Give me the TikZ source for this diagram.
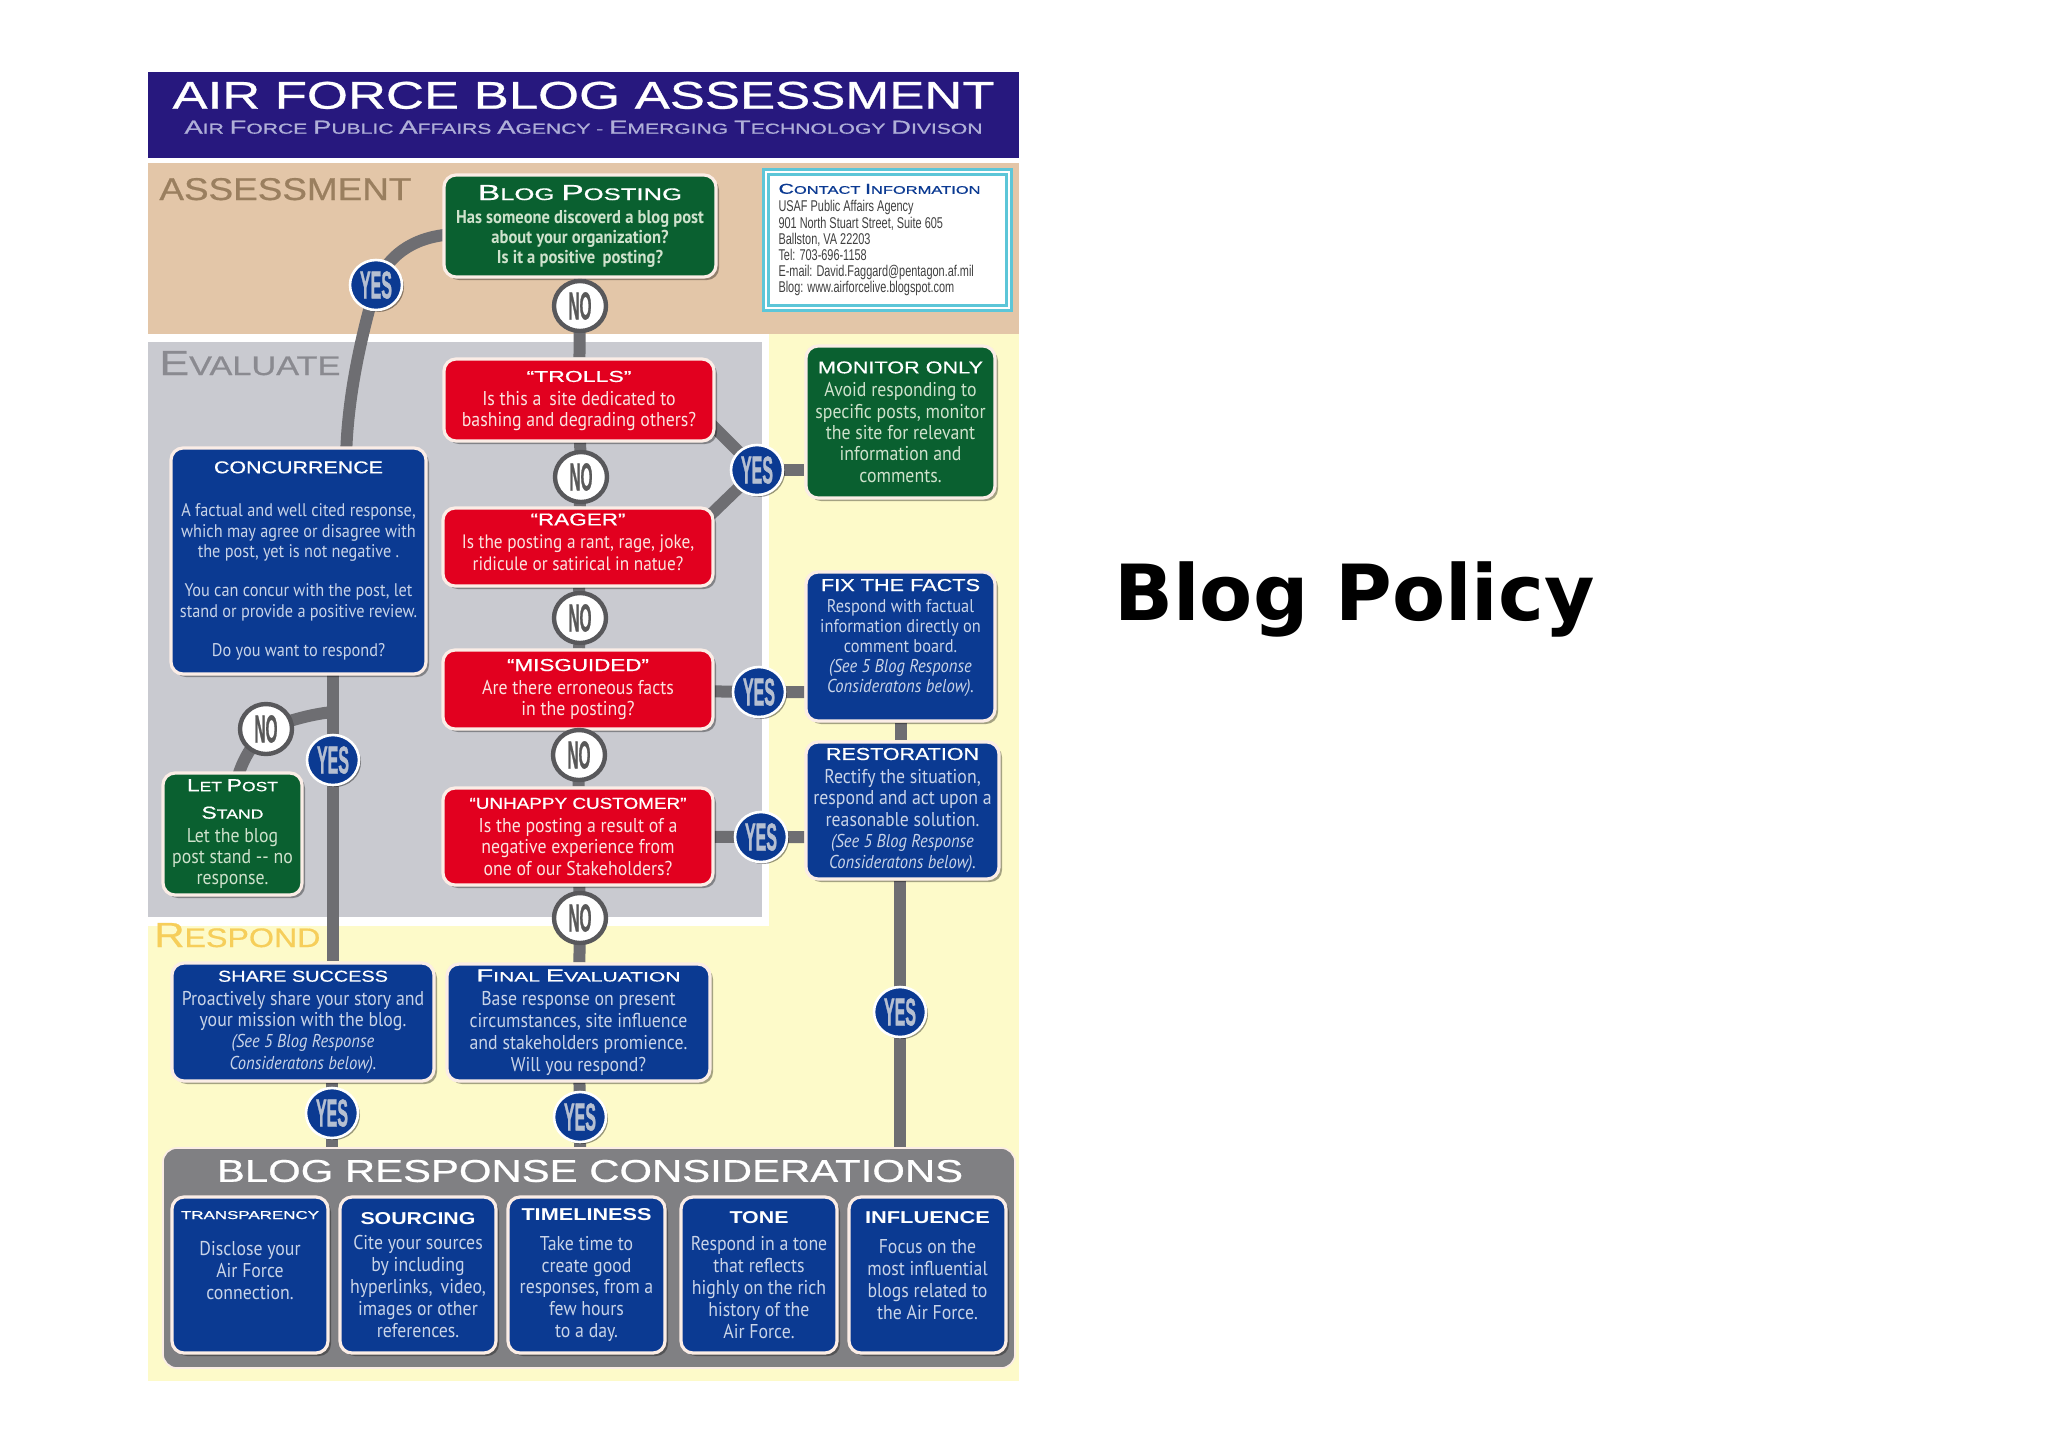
\documentclass[tikz,border=0pt]{standalone}
\usepackage{fontspec}
\usepackage{graphicx}
\usetikzlibrary{shapes.geometric,shadows}
\setmainfont{PT Sans}
\newfontfamily\bodyf[FakeStretch=0.89]{PT Sans}
\newfontfamily\contactf[FakeStretch=0.7]{Liberation Sans}
\newfontfamily\ttlf[FakeBold=0.6]{Liberation Sans}
\newfontfamily\ttlbf{Liberation Sans}
\newfontfamily\ovalf[BoldFeatures={FakeBold=1.5}]{Liberation Sans}
\newfontfamily\polf{DejaVu Sans}
\definecolor{hdr}{HTML}{27187E}
\definecolor{hdrsub}{HTML}{AFAFD8}
\definecolor{tanband}{HTML}{E3C6A8}
\definecolor{yel}{HTML}{FDFAC9}
\definecolor{evalg}{HTML}{C9CAD0}
\definecolor{bluebox}{HTML}{0B3A92}
\definecolor{redbox}{HTML}{E2001F}
\definecolor{greenbox}{HTML}{0A6030}
\definecolor{conng}{HTML}{6E6E72}
\definecolor{biggrey}{HTML}{808083}
\definecolor{edgep}{HTML}{FBEDE6}
\definecolor{txtb}{HTML}{C9D4E8}
\definecolor{txtr}{HTML}{FBE4E0}
\definecolor{txtg}{HTML}{CFE2CC}
\definecolor{cyanb}{HTML}{5CC6D8}
\definecolor{lassessc}{HTML}{9A7F5F}
\definecolor{levalc}{HTML}{8A8A90}
\definecolor{lrespc}{HTML}{F6CE5A}
\pgfdeclarelayer{bg}\pgfdeclarelayer{conn}\pgfsetlayers{bg,conn,main}
\newdimen\pxu \pxu=.5pt
\newcommand\bd{\bodyf\fontsize{10}{10.7}\selectfont}
\newcommand\C[1]{\scalebox{1.3}{#1}}
\newcommand\ital[1]{{\itshape\fontsize{9.3}{10}\selectfont #1}}
% title fitted to width and cap height, in reference pixels
\newcommand\Tt[3]{\resizebox{#1\pxu}{#2\pxu}{\ttlf\color{white}#3}}
\newcommand\Tb[3]{\resizebox{#1\pxu}{#2\pxu}{\ttlbf\bfseries\color{white}#3}}
\newcommand\bx[7]{\pgfmathsetmacro\bw{#5-#3}\pgfmathsetmacro\bh{#6-#4}%
  \node[#2,minimum width=\bw*.5pt,minimum height=\bh*.5pt] (#1) at ({(#3+#5)/2},{(#4+#6)/2}) {#7};}
\tikzset{
  flowbox/.style={rectangle,rounded corners=6pt,draw=edgep,line width=1.6pt,inner sep=0pt,align=center,font=\bd,
    general shadow={fill=black,opacity=.35,shadow xshift=1.5pt,shadow yshift=-1.5pt}},
  bluenode/.style={flowbox,fill=bluebox,text=txtb},
  rednode/.style={flowbox,fill=redbox,text=txtr},
  greennode/.style={flowbox,fill=greenbox,text=txtg},
  bodysize/.style n args={2}{font=\bodyf\fontsize{#1}{#2}\selectfont},
  nooval/.style={ellipse,minimum width=26pt,minimum height=25pt,inner sep=0pt,fill=white,draw=conng!80!black,line width=2.2pt},
  yesoval/.style={ellipse,minimum width=26pt,minimum height=25pt,inner sep=0pt,fill=bluebox,draw=white,line width=1.3pt,
    general shadow={fill=black,opacity=.4,shadow xshift=1pt,shadow yshift=-1pt}},
  flow/.style={draw=conng,line width=6pt},
}
\newcommand\NOo{\resizebox{11.5pt}{13.5pt}{\ovalf\bfseries\color{black!65}NO}}
\newcommand\YESo{\resizebox{16pt}{13.5pt}{\ovalf\bfseries\color{txtb!90!black}YES}}
\begin{document}
\begin{tikzpicture}[x=.5pt,y=-.5pt]
\useasboundingbox (0,0) rectangle (2048,1447);
\begin{pgfonlayer}{bg}
\fill[white] (0,0) rectangle (2048,1447);
\fill[yel] (148,334) rectangle (1019,1381);
\fill[tanband] (148,163) rectangle (1019,334);
\fill[white] (148,334) rectangle (769,926);
\fill[evalg] (148,342) rectangle (762,917);
\end{pgfonlayer}
% header
\bx{head}{rectangle,fill=hdr,text=white,inner sep=0pt,align=center}{148}{72}{1019}{158}{%
 \resizebox{822\pxu}{27\pxu}{\ttlf AIR FORCE BLOG ASSESSMENT}\\[.5pt]
 \resizebox{798\pxu}{13\pxu}{\ttlf\color{hdrsub}\C{A}IR \C{F}ORCE \C{P}UBLIC \C{A}FFAIRS \C{A}GENCY - \C{E}MERGING \C{T}ECHNOLOGY \C{D}IVISON}\\[-4.7pt]\mbox{}}
% section labels
\node[anchor=base west,inner sep=0pt] (lassess) at (159,200) {\resizebox{252\pxu}{22\pxu}{\ttlf\color{lassessc}ASSESSMENT}};
\node[anchor=base west,inner sep=0pt] (leval) at (159,375) {\resizebox{181\pxu}{24\pxu}{\ttlf\color{levalc}\C{E}VALUATE}};
\node[anchor=base west,inner sep=0pt] (lresp) at (154,947) {\resizebox{166\pxu}{24\pxu}{\ttlf\color{lrespc}\C{R}ESPOND}};
% flow boxes
\bx{post}{greennode,bodysize={9.3}{10}}{444}{175}{716}{277}{\Tt{204}{15}{\C{B}LOG \C{P}OSTING}\\[1.5pt]{\bfseries Has someone discoverd a blog post}\\{\bfseries about your organization?}\\{\bfseries Is it a positive\, posting?}}
\bx{trolls}{rednode}{444}{359}{714}{441}{\Tt{105}{11}{“TROLLS”}\\[1pt]Is this a\, site dedicated to\\bashing and degrading others?\\[-9.5pt]\mbox{}}
\bx{rager}{rednode,bodysize={9.7}{10.7}}{443}{508}{713}{586}{\Tt{95}{12}{“RAGER”}\\[1pt]Is the posting a rant, rage, joke,\\ridicule or satirical in natue?\\[-5.5pt]\mbox{}}
\bx{misg}{rednode}{443}{650}{713}{729}{\Tt{142}{12}{“MISGUIDED”}\\[1pt]Are there erroneous facts\\in the posting?}
\bx{unh}{rednode}{443}{788}{713}{885}{\Tt{217}{11}{“UNHAPPY CUSTOMER”}\\[1pt]Is the posting a result of a\\negative experience from\\one of our Stakeholders?}
\bx{final}{bluenode,bodysize={10}{11}}{447}{964}{710}{1081}{\Tt{204}{12}{\C{F}INAL \C{E}VALUATION}\\[1pt]Base response on present\\circumstances, site influence\\and stakeholders promience.\\Will you respond?}
\bx{share}{bluenode}{172}{963}{434}{1081}{\Tt{170}{11}{SHARE SUCCESS}\\[1pt]Proactively share your story and\\your mission with the blog.\\\ital{(See 5 Blog Response}\\\ital{Consideratons below).}}
\bx{conc}{bluenode,bodysize={9.15}{10.25}}{171}{448}{426}{674}{\Tt{169}{12}{CONCURRENCE}\\[11.4pt]A factual and well cited response,\\which may agree or disagree with\\the post, yet is not negative .\\[9.4pt]You can concur with the post, let\\stand or provide a positive review.\\[9.4pt]Do you want to respond?\\[-8.25pt]\mbox{}}
\bx{lets}{greennode}{163}{773}{302}{895}{\Tt{91}{12}{\C{L}ET \C{P}OST}\\[3pt]\Tt{62}{12}{\C{S}TAND}\\[1pt]Let the blog\\post stand -- no\\response.}
\bx{mon}{greennode}{806}{346}{995}{498}{\Tt{165}{12}{MONITOR ONLY}\\[1pt]Avoid responding to\\specific posts, monitor\\the site for relevant\\information and\\comments.}
\bx{fix}{bluenode,bodysize={9.2}{10}}{806}{572}{995}{721}{\Tt{159}{12}{FIX THE FACTS}\\[.5pt]Respond with factual\\information directly on\\comment board.\\\ital{(See 5 Blog Response}\\\ital{Consideratons below).}\\[1pt]\mbox{}}
\bx{rest}{bluenode}{806}{742}{999}{879}{\Tt{153}{12}{RESTORATION}\\[1pt]Rectify the situation,\\respond and act upon a\\reasonable solution.\\\ital{(See 5 Blog Response}\\\ital{Consideratons below).}}
% contact
\bx{contact}{rectangle,fill=white,draw=cyanb,double=white,double distance=.9pt,line width=1.4pt,inner sep=0pt,align=left,text=black!75,font=\contactf\fontsize{7.8}{8.1}\selectfont}{766}{172}{1009}{308}{\resizebox{202\pxu}{10\pxu}{\ttlf\color{bluebox}\C{C}ONTACT \C{I}NFORMATION}\hspace*{8pt}\\[1pt]USAF Public Affairs Agency\\901 North Stuart Street, Suite 605\\Ballston, VA 22203\\Tel: 703-696-1158\\E-mail: David.Faggard@pentagon.af.mil\\Blog: www.airforcelive.blogspot.com}
% considerations
\bx{big}{rectangle,rounded corners=7pt,fill=biggrey,draw=edgep,line width=.8pt,inner sep=0pt}{163}{1148}{1015}{1368}{}
\node[inner sep=0pt] (bigt) at (590,1171) {\Tt{746}{22}{BLOG RESPONSE CONSIDERATIONS}};
\bx{c1}{bluenode,bodysize={10}{11}}{172}{1197}{328}{1353}{\Tt{138}{8}{TRANSPARENCY}\\[7pt]Disclose your\\Air Force\\connection.\\[9pt]\mbox{}}
\bx{c2}{bluenode,bodysize={10}{11}}{340}{1197}{496}{1353}{\Tb{115}{12}{SOURCING}\\[1.5pt]Cite your sources\\by including\\hyperlinks,\, video,\\images or other\\references.}
\bx{c3}{bluenode,bodysize={10}{10.9}}{508}{1197}{665}{1353}{\Tb{130}{12}{TIMELINESS}\\[4pt]Take time to\\create good\\responses, from a\\few hours\\to a day.}
\bx{c4}{bluenode,bodysize={10}{11}}{681}{1197}{837}{1353}{\Tb{59}{12}{TONE}\\[2.5pt]Respond in a tone\\that reflects\\highly on the rich\\history of the\\Air Force.}
\bx{c5}{bluenode,bodysize={10}{11}}{849}{1197}{1006}{1353}{\Tb{125}{12}{INFLUENCE}\\[4pt]Focus on the\\most influential\\blogs related to\\the Air Force.\\[-1pt]\mbox{}}
% decisions
\node[nooval] (n1) at (580,306) {\NOo};
\node[nooval] (n2) at (581,477) {\NOo};
\node[nooval] (n3) at (580,618) {\NOo};
\node[nooval] (n4) at (579,755) {\NOo};
\node[nooval] (n5) at (580,918) {\NOo};
\node[nooval] (n6) at (266,729) {\NOo};
\node[yesoval] (y1) at (376,285) {\YESo};
\node[yesoval] (y2) at (757,470) {\YESo};
\node[yesoval] (y3) at (759,692) {\YESo};
\node[yesoval] (y4) at (761,837) {\YESo};
\node[yesoval] (y5) at (900,1012) {\YESo};
\node[yesoval] (y6) at (333,760) {\YESo};
\node[yesoval] (y7) at (332,1113) {\YESo};
\node[yesoval] (y8) at (580,1117) {\YESo};
\node[font=\polf\bfseries\fontsize{38.7}{40}\selectfont,anchor=base west,inner sep=0pt] (pol) at (1114,620) {Blog Policy};
% connector end points
\coordinate (postw) at (444,235);
\coordinate (conct) at (346,460);
\coordinate (concb) at (333,660);
\coordinate (letst) at (237,780);
\coordinate (branch) at (333,712);
\coordinate (trollse) at (699,412);
\coordinate (ragerne) at (700,525);
\begin{pgfonlayer}{conn}
\draw[flow] (postw) .. controls (405,240) and (385,262) .. (y1.center);
\draw[flow] (y1.center) .. controls (360,340) and (347,400) .. (conct);
\draw[flow] (post) -- (n1.center) -- (trolls);
\draw[flow] (trolls) -- (n2.center) -- (rager);
\draw[flow] (rager) -- (n3.center) -- (misg);
\draw[flow] (misg) -- (n4.center) -- (unh);
\draw[flow] (unh) -- (n5.center) -- (final);
\draw[flow] (final) -- (y8.center) -- (y8 |- big.north);
\draw[flow] (trollse) -- (y2.center);
\draw[flow] (ragerne) -- (y2.center);
\draw[flow] (y2) -- (y2 -| mon.west);
\draw[flow] (misg) -- (y3.center) -- (y3 -| fix.west);
\draw[flow] (unh) -- (y4.center) -- (y4 -| rest.west);
\draw[flow] (fix) -- (fix |- rest.north);
\draw[flow] (y5 |- rest.south) -- (y5.center) -- (y5 |- big.north);
\draw[flow] (concb) -- (y6.center) -- (y6 |- share.north);
\draw[flow] (y7 |- share.south) -- (y7.center) -- (y7 |- big.north);
\draw[flow] (branch) .. controls (310,714) and (285,722) .. (n6.center);
\draw[flow] (n6.center) .. controls (252,745) and (242,760) .. (letst);
\end{pgfonlayer}
\end{tikzpicture}
\end{document}
